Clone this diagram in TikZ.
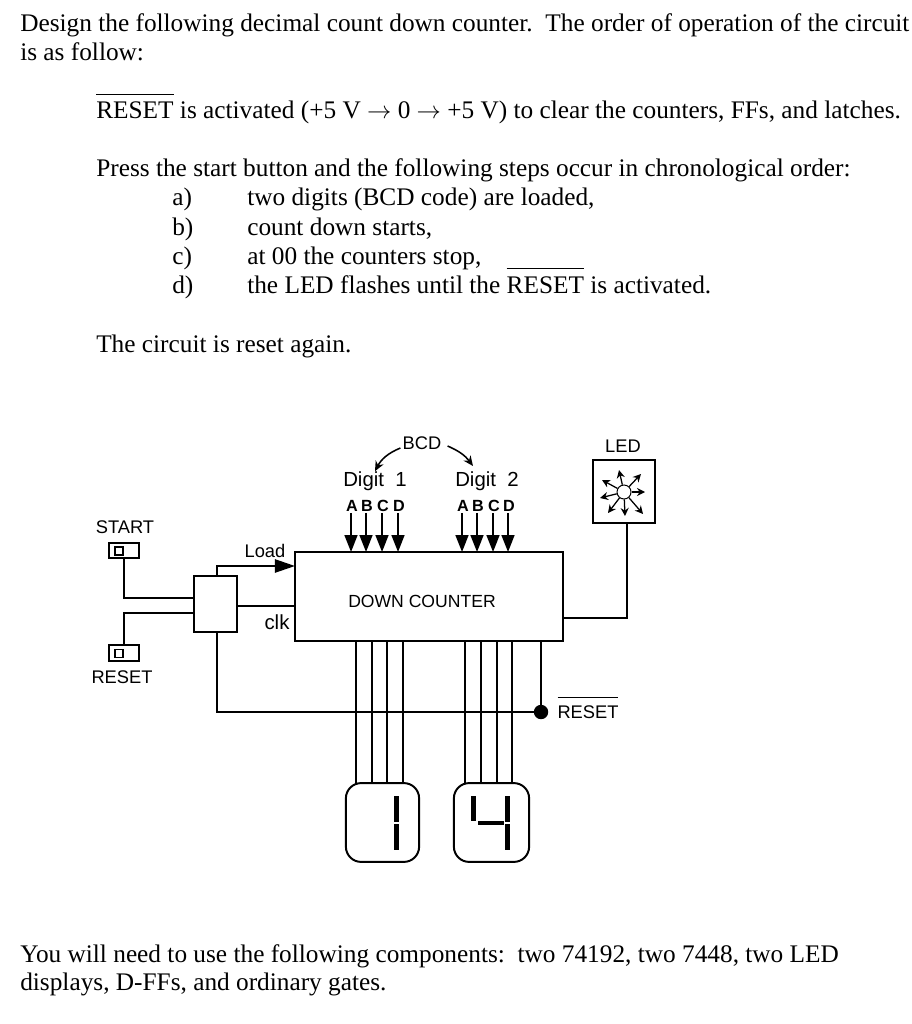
\documentclass[tikz,border=0pt]{standalone}
\usepackage{fontspec}
\setmainfont{Liberation Serif}
\setsansfont{Liberation Sans}
\usepackage{tikz}
\usetikzlibrary{arrows.meta}
\newcommand{\barreset}[1]{$\overline{\mbox{\rule{0pt}{#1}RESET}}$}
\tikzset{
  para/.style={anchor=base west,inner sep=0,font=\fontsize{18}{20}\selectfont},
  lab/.style={inner sep=0,font=\sffamily\fontsize{13}{15}\selectfont},
  blk/.style={draw,line width=1.4pt,inner sep=0,outer sep=0},
  wire/.style={line width=1.3pt},
  sw/.style={blk,minimum width=0.75cm,minimum height=0.39cm},
  swin/.style={draw,line width=1.1pt,minimum size=0.2cm,inner sep=0},
  disp/.style={blk,rounded corners=0.38cm,minimum height=1.97cm},
  seg/.style={fill=black,line width=0pt},
  inarr/.style={line width=1.3pt,-{Triangle[length=0.42cm,width=0.32cm]}},
  ledarr/.style={line width=0.9pt,-{Stealth[length=0.2cm,width=0.2cm]}}
}
\begin{document}
\begin{tikzpicture}[x=0.025cm,y=-0.025cm]
\useasboundingbox (0,0) rectangle (912,1024);
% text above the circuit
\node[para] (t1) at (20,32) {Design the following decimal count down counter.\ \ The order of operation of the circuit};
\node[para] (t2) at (20,61) {is as follow:};
\node[para] (t3) at (96,119) {\barreset{16.5pt} is activated (+5 V $\rightarrow$ 0 $\rightarrow$ +5 V) to clear the counters, FFs, and latches.};
\node[para] (t4) at (96,177) {Press the start button and the following steps occur in chronological order:};
\node[para] (a1) at (172,206) {a)};
\node[para] (a2) at (247,206) {two digits (BCD code) are loaded,};
\node[para] (b1) at (172,235) {b)};
\node[para] (b2) at (247,235) {count down starts,};
\node[para] (c1) at (172,264) {c)};
\node[para] (c2) at (247,264) {at 00 the counters stop,};
\node[para] (d1) at (172,293) {d)};
\node[para] (d2) at (247,293) {the LED flashes until the \barreset{16.5pt} is activated.};
\node[para] (t5) at (96,352) {The circuit is reset again.};
% blocks
\node[blk,minimum width=6.7cm,minimum height=2.225cm] (cnt) at (429,596.5) {};
\node[lab,font=\sffamily\fontsize{12.5}{15}\selectfont] (cntlab) at (422,601) {DOWN COUNTER};
\node[blk,minimum width=1.075cm,minimum height=1.4cm] (ctl) at (215.5,604) {};
\node[sw] (start) at (124,550.5) {};
\node[swin] at (119,551) {};
\node[sw] (reset) at (124,653) {};
\node[swin] at (119,653.5) {};
\node[lab] at (125,527) {START};
\node[lab] at (122,677) {RESET};
\node[lab] at (265,551) {Load};
\node[lab,font=\sffamily\fontsize{14.5}{15}\selectfont] at (277,622) {clk};
% wires
\draw[wire] (start.south) |- (ctl.west |- 0,598);
\draw[wire] (reset.north) |- (ctl.west |- 0,613);
\draw[wire,-{Triangle[length=0.5cm,width=0.33cm]}] (217,0 |- ctl.north) |- (cnt.west |- 0,566);
\draw[wire] (ctl.east |- 0,606) -- (cnt.west |- 0,606);
\node[circle,fill=black,inner sep=0,minimum size=0.36cm] (dot) at (541,712) {};
\draw[wire] (217,0 |- ctl.south) |- (dot);
\draw[wire] (dot) -- (dot |- cnt.south);
\node[lab,anchor=base] at (588,718) {\barreset{13pt}};
% displays
\node[disp,minimum width=1.83cm] (d1box) at (382.5,822.5) {};
\node[disp,minimum width=1.88cm] (d2box) at (491.5,822.5) {};
\foreach \x in {356,372,387,403} \draw[wire] (\x,0 |- cnt.south) -- (\x,0 |- d1box.north);
\foreach \x in {465,481,497,512} \draw[wire] (\x,0 |- cnt.south) -- (\x,0 |- d2box.north);
\fill[seg] (393.5,796) rectangle (398.5,822);
\fill[seg] (393.5,824) rectangle (398.5,850);
\fill[seg] (470.5,796) rectangle (475.5,821);
\fill[seg] (478,820.5) rectangle (504,825);
\fill[seg] (504.5,796) rectangle (509.5,822);
\fill[seg] (504.5,824) rectangle (509.5,850);
% inputs
\node[lab] (bcd) at (422,443) {BCD};
\node[lab,font=\sffamily\fontsize{14.5}{15}\selectfont] (dig1) at (375,481) {Digit\ \ 1};
\node[lab,font=\sffamily\fontsize{14.5}{15}\selectfont] (dig2) at (487,481) {Digit\ \ 2};
\draw[line width=1.1pt,-{Stealth[length=0.25cm,width=0.22cm]}] (bcd.west) ++(-2,5) to[bend right=20] (dig1.north);
\draw[line width=1.1pt,-{Stealth[length=0.25cm,width=0.22cm]}] (bcd.east) ++(6,3) to[bend left=15] (473,466);
\foreach \x/\l in {351/A,366/B,382/C,398/D,462/A,477/B,493/C,508/D} {
  \node[lab,font=\sffamily\bfseries\fontsize{11.5}{13}\selectfont] (in\x) at (\x+1,506) {\l};
  \draw[inarr] (in\x.south) ++(-1,1) -- (\x,0 |- cnt.north);
}
% LED
\node[lab] (ledlab) at (623,446) {LED};
\node[blk,minimum width=1.55cm,minimum height=1.575cm] (led) at (624,491.5) {};
\node[circle,draw,inner sep=0,minimum size=0.35cm,line width=0.7pt] (bulb) at (624,492) {};
\foreach \dx/\dy in {-5/-22,17/-18,-22/-12,-24/6,-16/21,1/24,19/22,21/0}
  \draw[ledarr] (bulb) -- ++(\dx,\dy);
\draw[wire] (led.south -| 627,0) |- (cnt.east |- 0,618);
% text below the circuit
\node[para] (t6) at (20,962) {You will need to use the following components:\ \ two 74192, two 7448, two LED};
\node[para] (t7) at (20,990) {displays, D-FFs, and ordinary gates.};
\end{tikzpicture}
\end{document}
